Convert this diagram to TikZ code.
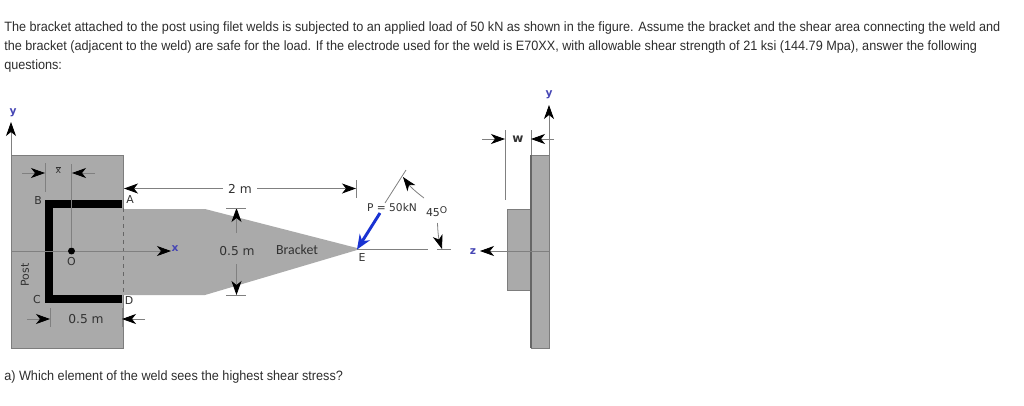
\documentclass[tikz,border=0pt]{standalone}
\usepackage{fontspec}
\setmainfont[FakeStretch=0.936]{Liberation Sans}
\newfontfamily\figfont{DejaVu Sans}
\newfontfamily\markfont{Carlito}
\usetikzlibrary{arrows.meta}
\definecolor{platefill}{RGB}{170,170,170}
\definecolor{plateedge}{RGB}{125,125,125}
\definecolor{axisblue}{RGB}{70,70,180}
\definecolor{loadblue}{RGB}{25,50,210}
\definecolor{bodytext}{RGB}{45,45,45}
\definecolor{figtext}{RGB}{50,50,50}
\tikzset{
  bodyline/.style={anchor=west,inner sep=0pt,text=bodytext,font=\fontsize{10.15pt}{12pt}\selectfont},
  figlabel/.style={inner sep=0pt,text=figtext,font=\figfont\fontsize{8.2pt}{10pt}\selectfont},
  dimlabel/.style={figlabel,font=\figfont\fontsize{9.2pt}{11pt}\selectfont},
  axislabel/.style={inner sep=0pt,text=axisblue,font=\figfont\bfseries\fontsize{8pt}{9pt}\selectfont},
  plate/.style={fill=platefill,draw=plateedge,line width=0.7pt},
  guide/.style={draw=black!50,line width=0.6pt},
  pointer/.style={guide,-{Stealth[inset=3pt,length=10.5pt,width=7.5pt,black]}},
}
\begin{document}
\begin{tikzpicture}[x=0.75pt,y=0.75pt,yscale=-1,xscale=1]
\useasboundingbox (0,0) rectangle (1024,405);

% Question text
\node[bodyline] (lineone) at (4,27.5) {The bracket attached to the post using filet welds is subjected to an applied load of 50 kN as shown in the figure. Assume the bracket and the shear area connecting the weld and};
\node[bodyline] (linetwo) at (4,46.5) {the bracket (adjacent to the weld) are safe for the load. If the electrode used for the weld is E70XX, with allowable shear strength of 21 ksi (144.79 Mpa), answer the following};
\node[bodyline] (linethree) at (4,65.5) {questions:};
\node[bodyline] (lineq) at (4,376.5) {a) Which element of the weld sees the highest shear stress?};

% Post and bracket
\draw[plate] (11,155) rectangle (123,348);
\fill[platefill] (123,209) -- (205,209) -- (357,248) -- (357,250) -- (205,295) -- (123,295) -- cycle;
\draw[black!60,dashed,line width=0.6pt] (123,208) -- (123,295);
\draw[black,line width=6.3pt,line join=miter] (122,204) -- (49,204) -- (49,299) -- (122,299);

% Front view axes
\coordinate (postcorner) at (11,155);
\coordinate (ytip) at (11,122);
\coordinate (xstart) at (11,251);
\coordinate (xtip) at (171,251);
\draw[pointer] (postcorner) -- (ytip);
\draw[pointer] (xstart) -- (xtip);
\node[axislabel] (ylabel) at (13,113) {y};
\node[axislabel] (xlabel) at (175,249) {x};

% Centroid
\node[circle,fill=black,inner sep=0pt,minimum size=5.2pt] (centroid) at (71.5,251) {};
\node[figlabel] (olabel) at (71.5,262) {O};
\coordinate (xbartop) at (71.5,164);
\draw[guide] (centroid) -- (xbartop);
\coordinate (xbarleft) at (45,163);
\coordinate (xbarbottom) at (45,192);
\draw[guide] (xbarleft) -- (xbarbottom);
\coordinate (xbarA) at (22,173);
\coordinate (xbarB) at (45,173);
\coordinate (xbarC) at (95,173);
\coordinate (xbarD) at (72,173);
\draw[pointer] (xbarA) -- (xbarB);
\draw[pointer] (xbarC) -- (xbarD);
\node[figlabel,font=\figfont\fontsize{7pt}{8pt}\selectfont] (xbar) at (58.5,170) {$\overline{\mbox{x}}$};

% Corner labels
\node[figlabel] (labelB) at (38,201) {B};
\node[figlabel] (labelA) at (130,200) {A};
\node[figlabel] (labelC) at (37,300) {C};
\node[figlabel] (labelD) at (129,301) {D};
\node[figlabel,rotate=90] (post) at (25,275) {Post};

% Width of the weld
\coordinate (wdleft) at (50,308);
\coordinate (wdleftb) at (50,327);
\coordinate (wdright) at (122,308);
\coordinate (wdrightb) at (122,327);
\draw[guide] (wdleft) -- (wdleftb);
\draw[guide] (wdright) -- (wdrightb);
\coordinate (wdA) at (27,319);
\coordinate (wdB) at (50,319);
\coordinate (wdC) at (145,319);
\coordinate (wdD) at (122,319);
\draw[pointer] (wdA) -- (wdB);
\draw[pointer] (wdC) -- (wdD);
\node[dimlabel] (wdtext) at (86,319) {0.5 m};

% Length of the bracket
\node[dimlabel] (lentext) at (240,189) {2 m};
\coordinate (lenleft) at (124,188.5);
\coordinate (lenright) at (356,188.5);
\coordinate (lengapA) at (223,188.5);
\coordinate (lengapB) at (257,188.5);
\draw[pointer] (lengapA) -- (lenleft);
\draw[pointer] (lengapB) -- (lenright);
\coordinate (lentickA) at (356,180);
\coordinate (lentickB) at (356,198);
\draw[guide] (lentickA) -- (lentickB);

% Height of the bracket
\node[dimlabel] (hgttext) at (237,251) {0.5 m};
\coordinate (hgttop) at (236.5,208);
\coordinate (hgtbot) at (236.5,295);
\coordinate (hgtgapA) at (236.5,233);
\coordinate (hgtgapB) at (236.5,264);
\draw[pointer] (hgtgapA) -- (hgttop);
\draw[pointer] (hgtgapB) -- (hgtbot);
\coordinate (hgttopA) at (226,208);
\coordinate (hgttopB) at (246,208);
\coordinate (hgtbotA) at (226,295);
\coordinate (hgtbotB) at (246,295);
\draw[guide] (hgttopA) -- (hgttopB);
\draw[guide] (hgtbotA) -- (hgtbotB);
\node[figlabel,font=\markfont\fontsize{10.4pt}{12pt}\selectfont] (bracket) at (297,250) {Bracket};

% Load
\coordinate (tipE) at (357,249.5);
\coordinate (refend) at (428,249.5);
\coordinate (angtickA) at (437,249.5);
\coordinate (angtickB) at (451,249.5);
\coordinate (loadline) at (385,203);
\coordinate (loadlineb) at (406,170);
\coordinate (loadtail) at (380,213);
\draw[guide] (tipE) -- (refend);
\draw[guide] (angtickA) -- (angtickB);
\draw[guide] (loadline) -- (loadlineb);
\draw[loadblue,line width=2.2pt,-{Stealth[length=11pt,width=9pt]}] (loadtail) -- (tipE);
\node[figlabel] (labelE) at (362,258) {E};
\node[figlabel,font=\figfont\fontsize{8pt}{10pt}\selectfont] (loadtext) at (392,207.5) {P = 50kN};
\node[figlabel,font=\figfont\fontsize{8.2pt}{10pt}\selectfont] (angle) at (437,211.5) {45$^{\mbox{\scriptsize O}}$};
\coordinate (arcA) at (424,198);
\coordinate (arcB) at (403,177);
\coordinate (arcC) at (437.5,223);
\coordinate (arcD) at (442,249);
\draw[pointer] (arcA) to[bend right=8] (arcB);
\draw[pointer] (arcC) to[bend left=8] (arcD);

% Side view
\draw[plate] (531,155) rectangle (549,348);
\draw[plate] (507,209) rectangle (531,290);
\draw[black!60,line width=1pt] (531,155) -- (531,348);
\coordinate (sideorigin) at (549,251);
\coordinate (ztip) at (480,251);
\coordinate (sidetop) at (549,155);
\coordinate (ytipb) at (549,105);
\draw[pointer] (sideorigin) -- (ztip);
\draw[pointer] (sidetop) -- (ytipb);
\node[axislabel] (zlabel) at (473,252) {z};
\node[axislabel] (ylabelb) at (549,95) {y};

% Weld size
\coordinate (wtickA) at (505,130);
\coordinate (wtickB) at (505,200);
\coordinate (wtickC) at (531,130);
\coordinate (wtickD) at (531,155);
\draw[guide] (wtickA) -- (wtickB);
\draw[guide] (wtickC) -- (wtickD);
\coordinate (wA) at (482,139);
\coordinate (wB) at (505,139);
\coordinate (wC) at (554,139);
\coordinate (wD) at (531,139);
\draw[pointer] (wA) -- (wB);
\draw[pointer] (wC) -- (wD);
\node[figlabel,font=\figfont\bfseries\fontsize{9pt}{10pt}\selectfont] (wlabel) at (518,139) {w};
\end{tikzpicture}
\end{document}
